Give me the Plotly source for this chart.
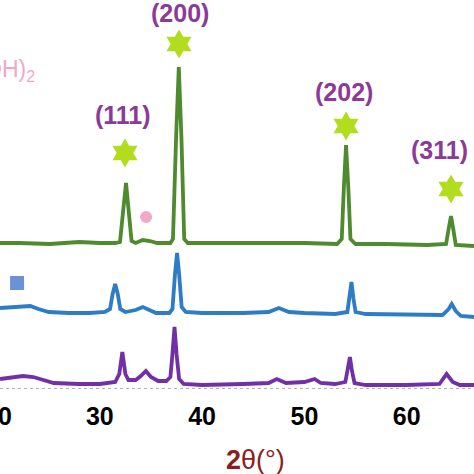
import plotly.graph_objects as go

# ---- data (2theta in degrees, intensity in a.u., stacked patterns) ----
theta_green = [20.24, 22.2, 25.1, 28.0, 30.0, 31.5, 31.97, 32.25, 32.56, 32.85, 33.1, 33.5, 34.2, 34.9, 35.6,
               36.9, 37.15, 37.45, 37.72, 37.98, 38.25, 38.6, 40.0, 45.0, 50.0, 53.2, 53.65, 53.85, 54.07,
               54.3, 54.5, 55.0, 58.0, 62.0, 63.85, 64.1, 64.33, 64.55, 64.8, 66.58]
int_green = [146, 146, 145, 147, 146, 146, 147, 175, 206, 175, 148, 146, 149, 148, 146,
             146, 150, 250, 322, 250, 150, 146, 146, 146, 146, 145, 150, 200, 244,
             200, 150, 145, 145, 144, 145, 160, 173, 160, 144, 143]

theta_blue = [20.24, 21.5, 22.5, 23.2, 24.0, 25.0, 27.0, 29.0, 30.5, 31.0, 31.25, 31.5, 31.75, 32.0, 32.5,
              33.5, 34.2, 34.8, 35.5, 36.8, 37.1, 37.35, 37.55, 37.75, 38.0, 38.4, 40.0, 44.0, 46.5,
              47.5, 48.5, 50.0, 53.0, 54.2, 54.4, 54.6, 54.8, 55.0, 56.0, 60.0, 63.5, 64.1, 64.4,
              64.8, 65.3, 66.58]
int_blue = [81, 82, 83, 83, 80, 77, 76, 76, 77, 80, 95, 105, 95, 80, 77,
            79, 82, 79, 76, 76, 80, 115, 136, 115, 82, 77, 76, 76, 77,
            81, 77, 76, 75, 77, 90, 107, 90, 77, 75, 74, 74, 80, 85,
            78, 73, 72]

theta_purple = [20.24, 21.5, 22.5, 23.5, 24.5, 25.5, 28.0, 30.0, 31.5, 31.9, 32.2, 32.5, 32.8, 33.5, 34.0,
                34.5, 35.0, 35.7, 36.5, 36.9, 37.1, 37.3, 37.5, 37.75, 38.2, 40.0, 44.0, 46.5, 47.3,
                48.2, 50.0, 51.0, 51.6, 53.0, 54.0, 54.2, 54.45, 54.65, 54.9, 56.0, 60.0, 63.2, 63.9,
                64.5, 65.2, 66.58]
int_purple = [10, 12, 13, 12, 9, 6, 5, 5, 7, 15, 37, 15, 9, 9, 13,
              18, 12, 8, 8, 12, 35, 62, 35, 10, 5, 4, 5, 6, 10,
              6, 7, 10, 6, 5, 7, 18, 32, 18, 6, 4, 4, 5, 15,
              7, 4, 4]

hkl_labels = ["(111)", "(200)", "(202)", "(311)"]
hkl_label_theta = [32.27, 37.84, 53.87, 63.25]
hkl_label_int = [274, 376, 297, 239]
star_theta = [32.46, 37.74, 54.07, 64.33]
star_int = [236, 345, 263, 200]

ohdot_theta = [34.52]
ohdot_int = [172]
square_theta = [21.91]
square_int = [106]

x_range = [20.24, 66.58]
tick_values = [20, 30, 40, 50, 60]
edge_tick_value = 20  # first tick sits just left of the visible range

fig = go.Figure()
fig.add_trace(go.Scatter(x=theta_green, y=int_green, mode="lines",
                         line=dict(color="#4E8A2E", width=3.8), showlegend=False))
fig.add_trace(go.Scatter(x=theta_blue, y=int_blue, mode="lines",
                         line=dict(color="#2F7CC6", width=3.8), showlegend=False))
fig.add_trace(go.Scatter(x=theta_purple, y=int_purple, mode="lines",
                         line=dict(color="#7330A6", width=3.8), showlegend=False))
fig.add_trace(go.Scatter(x=star_theta, y=star_int, mode="markers",
                         marker=dict(symbol="hexagram", size=22, color="#B2DC1E",
                                     line=dict(width=0)), showlegend=False))
fig.add_trace(go.Scatter(x=ohdot_theta, y=ohdot_int, mode="markers",
                         marker=dict(symbol="circle", size=12, color="#F3A8C8"), showlegend=False))
fig.add_trace(go.Scatter(x=square_theta, y=square_int, mode="markers",
                         marker=dict(symbol="square", size=14, color="#6A92D4"), showlegend=False))

annotations = []
for lab, tx, ty in zip(hkl_labels, hkl_label_theta, hkl_label_int):
    annotations.append(dict(x=tx, y=ty, xref="x", yref="y", text="<b>" + lab + "</b>",
                            showarrow=False, xanchor="center", yanchor="middle",
                            font=dict(family="Liberation Sans, Arial", size=25, color="#8B3A98")))
edge_tick_paper = (edge_tick_value - x_range[0]) / (x_range[1] - x_range[0])
annotations.append(dict(x=edge_tick_paper, y=(389 - 416) / 389, xref="paper", yref="paper",
                        text="<b>%d</b>" % edge_tick_value, showarrow=False,
                        xanchor="center", yanchor="middle",
                        font=dict(family="Liberation Sans, Arial", size=25, color="black")))
annotations.append(dict(x=37 / 474, y=(389 - 70) / 389, xref="paper", yref="paper",
                        text="Cd(OH)<sub>2</sub>", showarrow=False, xanchor="right", yanchor="middle",
                        font=dict(family="Liberation Sans, Arial", size=23, color="#F2A7C5")))
annotations.append(dict(x=255 / 474, y=(389 - 460) / 389, xref="paper", yref="paper",
                        text="<b>2</b>θ(°)", showarrow=False, xanchor="center", yanchor="middle",
                        font=dict(family="Liberation Sans, Arial", size=27, color="#8E1D1D")))

fig.update_layout(
    width=474, height=474,
    margin=dict(l=0, r=0, t=0, b=85, autoexpand=False),
    paper_bgcolor="white", plot_bgcolor="white",
    annotations=annotations,
    shapes=[dict(type="line", xref="paper", yref="y", x0=0, x1=1, y0=0, y1=0,
                 line=dict(color="#9A9A9A", width=1.5, dash="dot"), layer="below")],
    xaxis=dict(range=x_range, tickvals=tick_values, showgrid=False, zeroline=False,
               showline=False, ticks="", ticklabelstandoff=10, automargin=False,
               tickfont=dict(family="Liberation Sans, Arial", size=25, color="black", weight="bold")),
    yaxis=dict(range=[0, 389], visible=False, showgrid=False, zeroline=False, automargin=False),
)

fig.write_html("out.html", config={"displayModeBar": False},
               post_script="document.body.style.margin='0';document.body.style.overflow='hidden';")
